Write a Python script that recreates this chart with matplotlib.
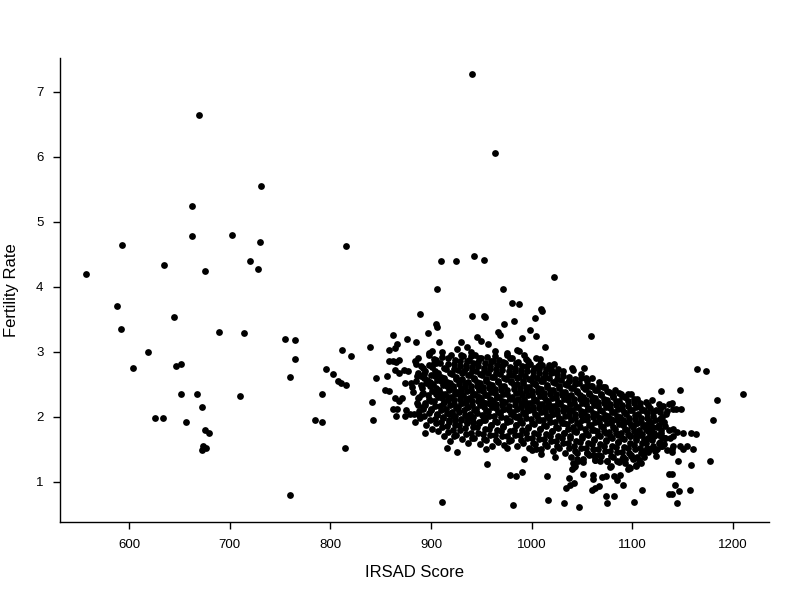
import matplotlib.pyplot as plt
import numpy as np

plt.rcParams['font.family'] = ['Liberation Sans', 'DejaVu Sans']

# sparse / outlying areas (IRSAD score, fertility rate)
outer_points = [
    (670, 6.64), (731, 5.55), (663, 5.24), (663, 4.78), (702, 4.80), (730, 4.69), (593, 4.64),
    (557, 4.20), (635, 4.33), (676, 4.24), (720, 4.40), (728, 4.27), (588, 3.70), (645, 3.53),
    (592, 3.36), (689, 3.30), (714, 3.29), (755, 3.20), (765, 3.18), (619, 3.00), (765, 2.89),
    (604, 2.76), (647, 2.78), (652, 2.81), (760, 2.61), (652, 2.35), (668, 2.35), (710, 2.32),
    (673, 2.15), (626, 1.98), (634, 1.98), (657, 1.92), (785, 1.95), (676, 1.80), (679, 1.75),
    (674, 1.55), (677, 1.52), (673, 1.49), (760, 0.80),
    (816, 4.63), (889, 3.58), (862, 3.26), (876, 3.20), (885, 3.16), (897, 3.29), (839, 3.07),
    (812, 3.03), (821, 2.93), (858, 3.03), (864, 3.06), (866, 3.12), (796, 2.73), (803, 2.66),
    (808, 2.56), (811, 2.52), (816, 2.49), (845, 2.60), (792, 2.35), (856, 2.63), (854, 2.41),
    (858, 2.40), (841, 2.23), (792, 1.92), (842, 1.95), (815, 1.53), (858, 2.86), (862, 2.86),
    (865, 2.84), (868, 2.87), (894, 1.75), (884, 1.92), (865, 2.01), (874, 2.01), (862, 2.12),
    (866, 2.12), (879, 2.04), (875, 2.10), (864, 2.29), (868, 2.24), (871, 2.29), (864, 2.72),
    (868, 2.67), (873, 2.72), (877, 2.70), (874, 2.52), (880, 2.52), (884, 2.86), (885, 2.81),
    (892, 2.75), (886, 2.63), (890, 2.63), (890, 2.49), (891, 2.36), (887, 2.29), (887, 2.18),
    (888, 2.09), (888, 2.03), (892, 2.12),
    (941, 7.27), (964, 6.06), (910, 4.40), (925, 4.40), (943, 4.47), (953, 4.41), (1022, 4.15),
    (906, 3.96), (972, 3.96), (980, 3.76), (987, 3.73), (1009, 3.66), (1010, 3.63), (941, 3.55),
    (953, 3.56), (954, 3.53), (1003, 3.52),
    (916, 1.52), (926, 1.46), (956, 1.27), (955, 1.50), (976, 1.52), (992, 1.35), (978, 1.10),
    (984, 1.09), (990, 1.15), (1015, 1.09), (911, 0.69), (981, 0.64), (1016, 0.73), (1009, 1.43),
    (1004, 1.50), (1000, 1.49),
    (905, 3.43), (906, 3.38), (908, 3.15), (930, 3.15), (936, 3.07), (946, 3.23), (950, 3.17),
    (957, 3.12), (967, 3.30), (969, 3.26), (973, 3.43), (982, 3.47), (990, 3.22), (998, 3.33),
    (1004, 3.24), (1013, 3.07), (898, 2.98), (901, 3.01), (903, 2.83), (905, 2.87),
    (1059, 3.24), (1017, 2.80), (1040, 2.75), (1041, 2.72), (1052, 2.76), (1054, 2.60),
    (1060, 2.60), (1054, 2.44), (1060, 2.47), (1073, 2.46), (1128, 2.40), (1032, 0.67),
    (1047, 0.61), (1075, 0.67), (1102, 0.69), (1110, 0.87), (1082, 0.78), (1074, 0.78),
    (1037, 1.06), (1034, 0.90), (1038, 0.95), (1042, 0.98), (1051, 1.12), (1061, 1.10),
    (1061, 1.04), (1060, 0.87), (1063, 0.90), (1067, 0.94), (1070, 1.07), (1074, 1.09),
    (1082, 1.09), (1085, 1.03), (1088, 1.10), (1091, 0.95), (1136, 1.12), (1136, 0.81),
    (1041, 1.29), (1043, 1.24), (1040, 1.20), (1046, 1.33), (1051, 1.30), (1062, 1.41),
    (1068, 1.32), (1075, 1.32), (1079, 1.24), (1096, 1.20), (1098, 1.21), (1104, 1.26),
    (1112, 1.47), (1116, 1.46), (1124, 1.40), (1136, 2.20),
    (1164, 2.73), (1173, 2.70), (1210, 2.36), (1184, 2.26), (1180, 1.95), (1177, 1.32),
    (1147, 2.41), (1139, 2.21), (1140, 2.12), (1143, 2.12), (1148, 2.12), (1134, 2.09),
    (1132, 1.86), (1136, 1.80), (1140, 1.81), (1144, 1.77), (1150, 1.75), (1158, 1.75),
    (1163, 1.74), (1137, 1.67), (1140, 1.70), (1129, 1.69), (1131, 1.58), (1140, 1.56),
    (1147, 1.55), (1154, 1.55), (1150, 1.51), (1160, 1.51), (1139, 1.46), (1139, 1.51),
    (1145, 1.32), (1158, 1.26), (1139, 1.12), (1142, 0.95), (1146, 0.86), (1139, 0.81),
    (1157, 0.87), (1144, 0.67),
    (976, 2.98), (978, 2.90), (985, 3.03), (987, 3.01), (994, 2.89), (1008, 2.89), (1006, 2.78),
    (1021, 2.69), (1037, 2.56), (1080, 2.36), (1090, 2.32), (1096, 2.36), (1011, 2.60),
    (1001, 2.52),
    (1023, 1.38), (1118, 1.50), (1125, 1.50), (1128, 1.55), (1134, 1.49), (1118, 1.75),
    (1112, 1.66), (1104, 1.72), (1112, 1.38), (1107, 1.34), (1109, 1.29), (1099, 1.40),
    (1101, 1.35), (1093, 1.29), (1097, 1.23), (1104, 1.25), (1085, 1.32), (1090, 1.35),
    (1078, 1.23), (1063, 1.34), (1045, 1.35), (1042, 1.23), (1055, 1.45), (1061, 1.41),
    (1122, 1.75), (1126, 1.72), (1132, 1.67), (1115, 1.87), (1120, 1.84), (1127, 2.07),
    (1127, 1.97),
]

# dense central cloud, read column by column
core_points = [
    (883, 2.05), (886, 2.22), (882, 2.38), (885, 2.55), (887, 2.68), (881, 2.46),
    (889, 1.98), (892, 2.15), (888, 2.30), (891, 2.44), (893, 2.60), (890, 2.78), (887, 2.90),
    (895, 1.88), (898, 2.06), (894, 2.19), (897, 2.33), (899, 2.48), (896, 2.57), (894, 2.71), (898, 2.95), (900, 2.25),
    (901, 1.82), (904, 1.97), (900, 2.10), (903, 2.24), (905, 2.36), (902, 2.51), (904, 2.63), (901, 2.77), (903, 2.89), (906, 2.40),
    (907, 1.78), (910, 1.93), (906, 2.04), (909, 2.17), (911, 2.29), (908, 2.42), (910, 2.55), (907, 2.68), (909, 2.83), (911, 3.00), (912, 2.20),
    (913, 1.70), (916, 1.86), (912, 2.00), (915, 2.12), (917, 2.26), (914, 2.35), (916, 2.47), (913, 2.60), (915, 2.74), (917, 2.90), (918, 2.05), (912, 2.55),
    (919, 1.63), (922, 1.80), (918, 1.95), (921, 2.08), (923, 2.20), (920, 2.31), (922, 2.44), (919, 2.52), (921, 2.66), (923, 2.81), (920, 2.95), (924, 2.38),
    (925, 1.72), (928, 1.88), (924, 2.02), (927, 2.15), (929, 2.27), (926, 2.39), (928, 2.50), (925, 2.62), (927, 2.72), (929, 2.86), (926, 3.05), (930, 2.22), (924, 1.95),
    (931, 1.66), (934, 1.83), (930, 1.97), (933, 2.10), (935, 2.23), (932, 2.34), (934, 2.46), (931, 2.58), (933, 2.70), (935, 2.80), (932, 2.93), (936, 2.16), (930, 2.40),
    (937, 1.60), (940, 1.76), (936, 1.92), (939, 2.05), (941, 2.18), (938, 2.29), (940, 2.41), (937, 2.53), (939, 2.65), (941, 2.77), (938, 2.88), (940, 3.00), (942, 2.33), (936, 2.00),
    (943, 1.68), (946, 1.85), (942, 2.00), (945, 2.12), (947, 2.24), (944, 2.36), (946, 2.48), (943, 2.60), (945, 2.71), (947, 2.84), (944, 2.96), (948, 2.30), (942, 1.93),
    (949, 1.58), (952, 1.74), (948, 1.90), (951, 2.03), (953, 2.16), (950, 2.28), (952, 2.40), (949, 2.52), (951, 2.64), (953, 2.75), (950, 2.90), (954, 2.21), (948, 2.45),
    (955, 1.65), (958, 1.81), (954, 1.96), (957, 2.09), (959, 2.20), (956, 2.33), (958, 2.44), (955, 2.56), (957, 2.68), (959, 2.79), (956, 2.92), (960, 2.26), (954, 2.00),
    (961, 1.55), (964, 1.72), (960, 1.87), (963, 2.01), (965, 2.14), (962, 2.25), (964, 2.37), (961, 2.49), (963, 2.61), (965, 2.73), (962, 2.86), (964, 3.02), (966, 2.30),
    (967, 1.62), (970, 1.78), (966, 1.93), (969, 2.06), (971, 2.18), (968, 2.30), (970, 2.42), (967, 2.54), (969, 2.66), (971, 2.78), (968, 2.88), (972, 2.12),
    (973, 1.57), (976, 1.70), (972, 1.85), (975, 1.99), (977, 2.11), (974, 2.23), (976, 2.35), (973, 2.47), (975, 2.59), (977, 2.71), (974, 2.83), (976, 2.95), (978, 2.28),
    (979, 1.64), (982, 1.80), (978, 1.94), (981, 2.07), (983, 2.19), (980, 2.31), (982, 2.43), (979, 2.55), (981, 2.65), (983, 2.76), (980, 2.90), (984, 2.00),
    (985, 1.55), (988, 1.72), (984, 1.88), (987, 2.02), (989, 2.15), (986, 2.27), (988, 2.38), (985, 2.50), (987, 2.62), (989, 2.72), (986, 2.85), (990, 2.20),
    (991, 1.60), (994, 1.76), (990, 1.91), (993, 2.04), (995, 2.16), (992, 2.28), (994, 2.40), (991, 2.52), (993, 2.63), (995, 2.78), (992, 2.95), (996, 2.10),
    (997, 1.52), (1000, 1.68), (996, 1.83), (999, 1.97), (1001, 2.10), (998, 2.22), (1000, 2.34), (997, 2.46), (999, 2.57), (1001, 2.70), (998, 2.82), (1002, 2.25),
    (1003, 1.58), (1006, 1.74), (1002, 1.89), (1005, 2.02), (1007, 2.14), (1004, 2.26), (1006, 2.38), (1003, 2.50), (1005, 2.60), (1007, 2.74), (1004, 2.90), (1008, 1.95),
    (1009, 1.50), (1012, 1.66), (1008, 1.81), (1011, 1.95), (1013, 2.08), (1010, 2.20), (1012, 2.31), (1009, 2.43), (1011, 2.55), (1013, 2.67), (1010, 2.80), (1014, 2.15),
    (1015, 1.55), (1018, 1.71), (1014, 1.86), (1017, 1.99), (1019, 2.11), (1016, 2.23), (1018, 2.35), (1015, 2.46), (1017, 2.60), (1019, 2.74), (1020, 2.05),
    (1021, 1.47), (1024, 1.63), (1020, 1.78), (1023, 1.92), (1025, 2.05), (1022, 2.17), (1024, 2.29), (1021, 2.41), (1023, 2.52), (1025, 2.66), (1022, 2.82), (1026, 2.20),
    (1027, 1.52), (1030, 1.68), (1026, 1.83), (1029, 1.96), (1031, 2.09), (1028, 2.21), (1030, 2.33), (1027, 2.44), (1029, 2.57), (1031, 2.70), (1032, 1.90),
    (1033, 1.44), (1036, 1.60), (1032, 1.75), (1035, 1.89), (1037, 2.02), (1034, 2.14), (1036, 2.26), (1033, 2.38), (1035, 2.49), (1037, 2.62), (1038, 2.10),
    (1039, 1.38), (1042, 1.55), (1038, 1.70), (1041, 1.85), (1043, 1.98), (1040, 2.10), (1042, 2.22), (1039, 2.33), (1041, 2.45), (1043, 2.58), (1044, 1.78),
    (1045, 1.45), (1048, 1.62), (1044, 1.77), (1047, 1.90), (1049, 2.03), (1046, 2.16), (1048, 2.28), (1045, 2.40), (1047, 2.52), (1049, 2.66), (1050, 1.95),
    (1051, 1.36), (1054, 1.52), (1050, 1.68), (1053, 1.82), (1055, 1.95), (1052, 2.08), (1054, 2.20), (1051, 2.31), (1053, 2.43), (1055, 2.55), (1056, 2.12),
    (1057, 1.42), (1060, 1.58), (1056, 1.73), (1059, 1.87), (1061, 2.00), (1058, 2.12), (1060, 2.24), (1057, 2.36), (1059, 2.48), (1062, 1.80),
    (1063, 1.34), (1066, 1.50), (1062, 1.65), (1065, 1.79), (1067, 1.92), (1064, 2.05), (1066, 2.17), (1063, 2.29), (1065, 2.42), (1067, 2.53), (1068, 1.98),
    (1069, 1.40), (1072, 1.56), (1068, 1.71), (1071, 1.84), (1073, 1.97), (1070, 2.09), (1072, 2.21), (1069, 2.33), (1071, 2.46), (1074, 1.75),
    (1075, 1.32), (1078, 1.48), (1074, 1.63), (1077, 1.77), (1079, 1.90), (1076, 2.02), (1078, 2.14), (1075, 2.26), (1077, 2.38), (1080, 1.95),
    (1081, 1.38), (1084, 1.54), (1080, 1.68), (1083, 1.82), (1085, 1.95), (1082, 2.07), (1084, 2.19), (1081, 2.31), (1083, 2.42), (1086, 1.72),
    (1087, 1.30), (1090, 1.46), (1086, 1.61), (1089, 1.75), (1091, 1.88), (1088, 2.00), (1090, 2.12), (1087, 2.24), (1089, 2.36), (1092, 1.93),
    (1093, 1.36), (1096, 1.52), (1092, 1.66), (1095, 1.80), (1097, 1.93), (1094, 2.05), (1096, 2.17), (1093, 2.30), (1098, 1.70),
    (1099, 1.42), (1102, 1.57), (1098, 1.71), (1101, 1.84), (1103, 1.97), (1100, 2.10), (1102, 2.22), (1099, 2.35), (1104, 1.90),
    (1105, 1.38), (1108, 1.53), (1104, 1.67), (1107, 1.80), (1109, 1.92), (1106, 2.04), (1108, 2.16), (1105, 2.28),
    (1111, 1.45), (1114, 1.60), (1110, 1.74), (1113, 1.87), (1115, 1.99), (1112, 2.11), (1114, 2.23), (1116, 1.68),
    (1117, 1.50), (1120, 1.64), (1116, 1.78), (1119, 1.90), (1121, 2.02), (1118, 2.14), (1120, 2.26),
    (1123, 1.47), (1126, 1.60), (1122, 1.73), (1125, 1.85), (1127, 1.97), (1124, 2.10), (1126, 2.20),
    (1129, 1.55), (1132, 1.68), (1128, 1.80), (1131, 1.93), (1133, 2.05), (1130, 2.17),
]

# second pass over the cloud: points that sit between the ones above
core_points_2 = [
    (893, 2.02), (894, 2.22), (892, 2.37), (895, 2.52), (893, 2.66),
    (899, 1.95), (900, 2.12), (898, 2.27), (901, 2.40), (899, 2.53), (900, 2.64), (898, 2.80),
    (905, 1.90), (906, 2.03), (904, 2.17), (907, 2.30), (905, 2.45), (906, 2.57), (904, 2.70), (905, 2.83),
    (911, 1.85), (912, 1.98), (910, 2.11), (913, 2.23), (911, 2.36), (912, 2.49), (910, 2.62), (913, 2.76), (911, 2.92),
    (917, 1.77), (918, 1.93), (916, 2.06), (919, 2.19), (917, 2.31), (918, 2.41), (916, 2.53), (919, 2.67), (917, 2.82),
    (923, 1.71), (924, 1.87), (922, 2.01), (925, 2.14), (923, 2.26), (924, 2.35), (922, 2.48), (925, 2.59), (923, 2.73), (924, 2.88),
    (929, 1.80), (930, 1.95), (928, 2.08), (931, 2.21), (929, 2.33), (930, 2.45), (928, 2.56), (931, 2.67), (929, 2.79), (930, 2.95),
    (935, 1.74), (936, 1.90), (934, 2.03), (937, 2.16), (935, 2.28), (936, 2.40), (934, 2.52), (937, 2.64), (935, 2.75), (936, 2.86),
    (941, 1.68), (942, 1.84), (940, 1.98), (943, 2.11), (941, 2.24), (942, 2.35), (940, 2.47), (943, 2.59), (941, 2.71), (942, 2.83), (940, 2.94),
    (947, 1.76), (948, 1.92), (946, 2.06), (949, 2.18), (947, 2.30), (948, 2.42), (946, 2.54), (949, 2.66), (947, 2.78), (948, 2.90),
    (953, 1.66), (954, 1.82), (952, 1.96), (955, 2.09), (953, 2.22), (954, 2.34), (952, 2.46), (955, 2.58), (953, 2.70), (954, 2.83),
    (959, 1.73), (960, 1.88), (958, 2.02), (961, 2.15), (959, 2.27), (960, 2.38), (958, 2.50), (961, 2.62), (959, 2.74), (960, 2.86),
    (965, 1.64), (966, 1.80), (964, 1.94), (967, 2.08), (965, 2.20), (966, 2.31), (964, 2.43), (967, 2.55), (965, 2.67), (966, 2.80), (964, 2.94),
    (971, 1.70), (972, 1.86), (970, 2.00), (973, 2.12), (971, 2.24), (972, 2.36), (970, 2.48), (973, 2.60), (971, 2.72), (972, 2.84),
    (977, 1.63), (978, 1.78), (976, 1.92), (979, 2.05), (977, 2.17), (978, 2.29), (976, 2.41), (979, 2.53), (977, 2.65), (978, 2.77),
    (983, 1.72), (984, 1.87), (982, 2.01), (985, 2.13), (983, 2.25), (984, 2.37), (982, 2.49), (985, 2.60), (983, 2.71), (984, 2.83),
    (989, 1.64), (990, 1.80), (988, 1.95), (991, 2.08), (989, 2.21), (990, 2.33), (988, 2.44), (991, 2.56), (989, 2.67), (990, 2.79),
    (995, 1.68), (996, 1.84), (994, 1.98), (997, 2.10), (995, 2.22), (996, 2.34), (994, 2.46), (997, 2.58), (995, 2.70), (996, 2.86),
    (1001, 1.60), (1002, 1.76), (1000, 1.90), (1003, 2.04), (1001, 2.16), (1002, 2.28), (1000, 2.40), (1003, 2.51), (1001, 2.63), (1002, 2.76),
    (1007, 1.66), (1008, 1.82), (1006, 1.96), (1009, 2.08), (1007, 2.20), (1008, 2.32), (1006, 2.44), (1009, 2.55), (1007, 2.67), (1008, 2.82),
    (1013, 1.58), (1014, 1.74), (1012, 1.88), (1015, 2.01), (1013, 2.14), (1014, 2.26), (1012, 2.37), (1015, 2.49), (1013, 2.61), (1014, 2.73),
    (1019, 1.63), (1020, 1.79), (1018, 1.93), (1021, 2.05), (1019, 2.17), (1020, 2.29), (1018, 2.41), (1021, 2.53), (1019, 2.67),
    (1025, 1.55), (1026, 1.71), (1024, 1.85), (1027, 1.98), (1025, 2.11), (1026, 2.23), (1024, 2.35), (1027, 2.47), (1025, 2.59), (1026, 2.74),
    (1031, 1.60), (1032, 1.76), (1030, 1.90), (1033, 2.02), (1031, 2.15), (1032, 2.27), (1030, 2.39), (1033, 2.51), (1031, 2.63),
    (1037, 1.52), (1038, 1.68), (1036, 1.82), (1039, 1.95), (1037, 2.08), (1038, 2.20), (1036, 2.32), (1039, 2.44), (1037, 2.55),
    (1043, 1.47), (1044, 1.63), (1042, 1.78), (1045, 1.91), (1043, 2.04), (1044, 2.16), (1042, 2.28), (1045, 2.39), (1043, 2.51),
    (1049, 1.53), (1050, 1.70), (1048, 1.84), (1051, 1.97), (1049, 2.09), (1050, 2.22), (1048, 2.34), (1051, 2.46), (1049, 2.60),
    (1055, 1.44), (1056, 1.60), (1054, 1.75), (1057, 1.88), (1055, 2.02), (1056, 2.14), (1054, 2.26), (1057, 2.37), (1055, 2.49),
    (1061, 1.50), (1062, 1.66), (1060, 1.80), (1063, 1.93), (1061, 2.06), (1062, 2.18), (1060, 2.30), (1063, 2.42),
    (1067, 1.42), (1068, 1.58), (1066, 1.73), (1069, 1.86), (1067, 1.99), (1068, 2.11), (1066, 2.23), (1069, 2.36), (1067, 2.48),
    (1073, 1.48), (1074, 1.64), (1072, 1.78), (1075, 1.91), (1073, 2.03), (1074, 2.15), (1072, 2.27), (1075, 2.40),
    (1079, 1.40), (1080, 1.56), (1078, 1.70), (1081, 1.84), (1079, 1.97), (1080, 2.08), (1078, 2.20), (1081, 2.32),
    (1085, 1.46), (1086, 1.62), (1084, 1.76), (1087, 1.89), (1085, 2.01), (1086, 2.13), (1084, 2.25), (1087, 2.37),
    (1091, 1.38), (1092, 1.54), (1090, 1.68), (1093, 1.82), (1091, 1.95), (1092, 2.07), (1090, 2.19), (1093, 2.30),
    (1097, 1.44), (1098, 1.60), (1096, 1.74), (1099, 1.87), (1097, 1.99), (1098, 2.11), (1096, 2.24),
    (1103, 1.50), (1104, 1.64), (1102, 1.78), (1105, 1.91), (1103, 2.03), (1104, 2.15), (1102, 2.28),
    (1109, 1.45), (1110, 1.60), (1108, 1.73), (1111, 1.86), (1109, 1.98), (1110, 2.10), (1108, 2.21),
    (1115, 1.53), (1116, 1.67), (1114, 1.81), (1117, 1.94), (1115, 2.06), (1116, 2.18),
    (1121, 1.56), (1122, 1.70), (1120, 1.83), (1123, 1.96), (1121, 2.08),
    (1127, 1.62), (1128, 1.76), (1126, 1.88), (1129, 2.00), (1127, 2.13),
]

x_ticks = [600, 700, 800, 900, 1000, 1100, 1200]
y_ticks = [1, 2, 3, 4, 5, 6, 7]

pts = np.array(outer_points + core_points + core_points_2)
irsad = pts[:, 0]
fertility = pts[:, 1]

fig = plt.figure(figsize=(7.96, 5.96), dpi=100)
ax = fig.add_axes([0.0754, 0.1242, 0.8906, 0.7785])

ax.scatter(irsad, fertility, s=24, color='black', linewidths=0)

ax.set_xlim(531.5, 1235.7)
ax.set_ylim(0.385, 7.52)
ax.set_xticks(x_ticks)
ax.set_yticks(y_ticks)
ax.tick_params(direction='out', length=5, width=1, labelsize=9.5, pad=7)

for side in ['top', 'right']:
    ax.spines[side].set_visible(False)
for side in ['left', 'bottom']:
    ax.spines[side].set_linewidth(1)

ax.set_xlabel('IRSAD Score', fontsize=12, labelpad=10)
ax.set_ylabel('Fertility Rate', fontsize=12, labelpad=12)

plt.savefig('out.png', dpi=100)
